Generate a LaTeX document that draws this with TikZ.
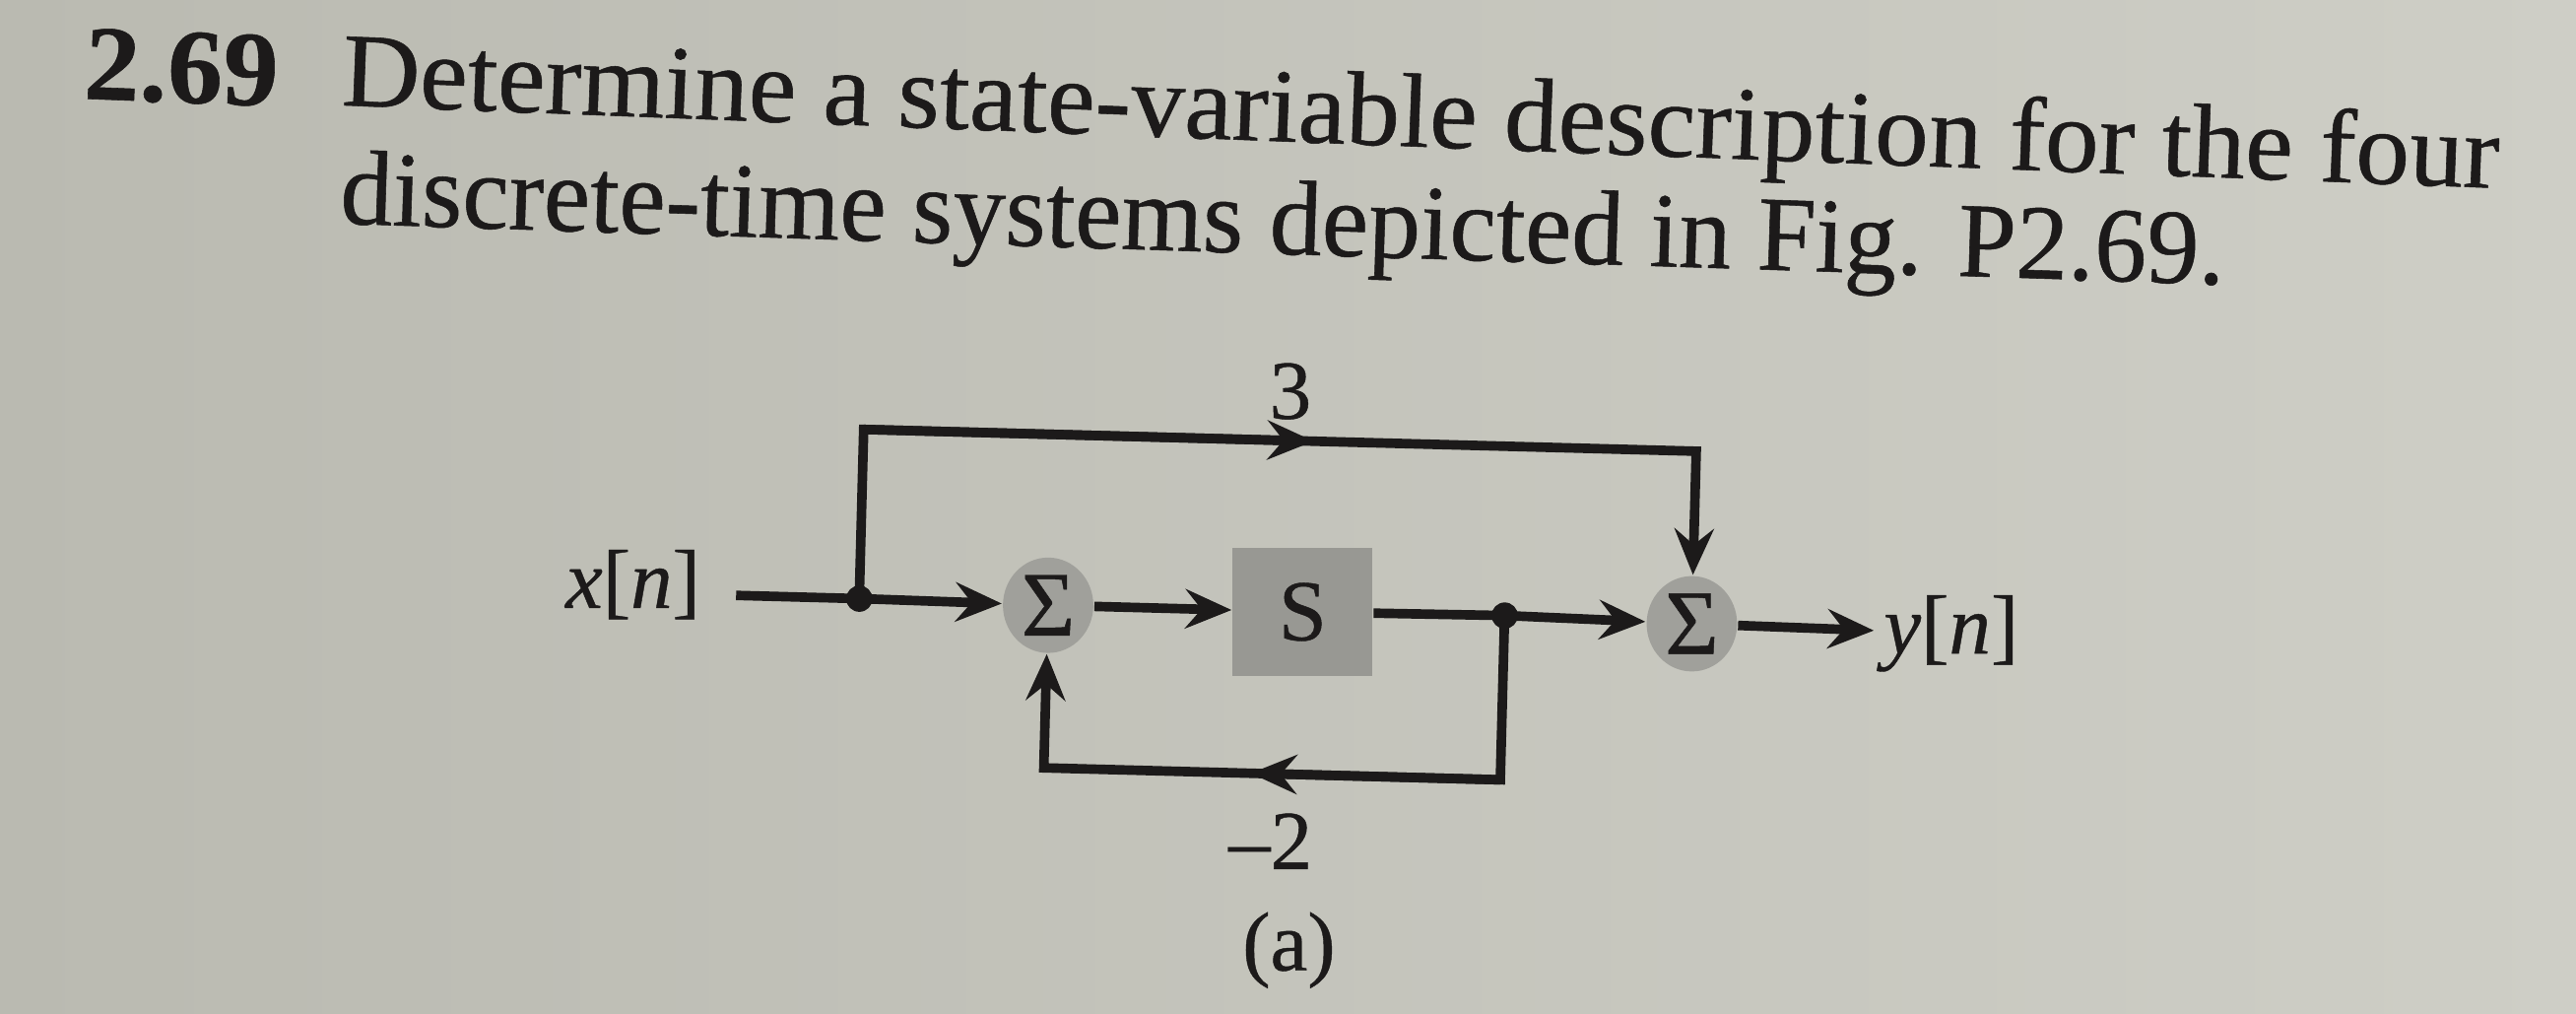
\documentclass[tikz,border=0pt]{standalone}
\usepackage{fontspec}
\setmainfont{Liberation Serif}
\newfontfamily\inkfont[FakeBold=0.5]{Liberation Serif}
\usetikzlibrary{arrows.meta,shapes.geometric}
\definecolor{paperL}{RGB}{186,186,177}
\definecolor{paperR}{RGB}{206,206,198}
\definecolor{ink}{RGB}{28,26,26}
\definecolor{sumgray}{RGB}{160,160,155}
\definecolor{boxgray}{RGB}{152,152,147}
\tikzset{
  wire/.style={line width=1.65pt, draw=ink},
  arr/.style={wire, -{Stealth[length=8pt,width=6.8pt,inset=2.8pt]}},
  sumnode/.style={ellipse, fill=sumgray, minimum width=0.55cm, minimum height=0.58cm, inner sep=0pt, text=ink, font=\inkfont\fontsize{16}{17}\selectfont},
  blockbox/.style={rectangle, fill=boxgray, minimum width=0.85cm, minimum height=0.78cm, inner sep=0pt, text=ink, font=\inkfont\fontsize{15}{16}\selectfont},
  jdot/.style={circle, fill=ink, minimum size=0.16cm, inner sep=0pt},
  lbl/.style={inner sep=0pt, text=ink, font=\inkfont\fontsize{14.5}{16}\selectfont},
  siglbl/.style={inner sep=0pt, text=ink, font=\inkfont\fontsize{14.5}{16}\selectfont},
  titletext/.style={inner sep=0pt, text=ink, anchor=base west, font=\inkfont}
}
\begin{document}
\begin{tikzpicture}[x=0.01cm,y=-0.01cm]
\useasboundingbox (0,0) rectangle (1568,617);
\shade[left color=paperL, right color=paperR] (0,0) rectangle (1568,617);

% title
\node[titletext, rotate=-2.2] (num) at (50,60) {\resizebox{1.18cm}{0.43cm}{\bfseries 2.69}};
\node[titletext, rotate=-2.2] (line1) at (207,64) {\resizebox{13.13cm}{0.45cm}{Determine a state-variable description for the four}};
\node[titletext, rotate=-1.85] (line2) at (206,136) {\resizebox{11.47cm}{0.45cm}{discrete-time systems depicted in Fig. P2.69.}};

\begin{scope}[rotate around={-1.5:(780,370)}]
  \node[siglbl] (x) at (385,366) {\textit{x}[\textit{n}]};
  \coordinate (in) at (448,371);
  \node[jdot] (j1) at (523,371) {};
  \node[sumnode] (s1) at (638,372) {Σ};
  \node[blockbox] (S) at (793,372) {S};
  \node[jdot] (j2) at (916,371) {};
  \node[sumnode] (s2) at (1030,373) {Σ};
  \node[siglbl, anchor=west, inner sep=1.5pt] (y) at (1141,376) {\textit{y}[\textit{n}]};
  \coordinate (tl) at (523,268);
  \coordinate (tr) at (1030,268);
  \coordinate (tm) at (797,268);
  \coordinate (bl) at (638,471);
  \coordinate (br) at (916,471);
  \coordinate (bm) at (764,471);
  \node[lbl] (g3) at (782,238) {3};
  \node[lbl] (g2) at (777,512) {–2};
  \node[lbl] (cap) at (790,578) {(a)};

  \draw[wire] (in) -- (j1.center);
  \draw[arr] (j1.center) -- (s1);
  \draw[arr] (s1) -- (S);
  \draw[wire] (S) -- (j2.center);
  \draw[arr] (j2.center) -- (s2);
  \draw[arr] (s2) -- (y);
  \draw[arr] (j1.center) -- (tl) -- (tr) -- (s2);
  \draw[arr] (tl) -- (tm);
  \draw[arr] (j2.center) -- (br) -- (bl) -- (s1);
  \draw[arr] (br) -- (bm);
\end{scope}
\end{tikzpicture}
\end{document}
